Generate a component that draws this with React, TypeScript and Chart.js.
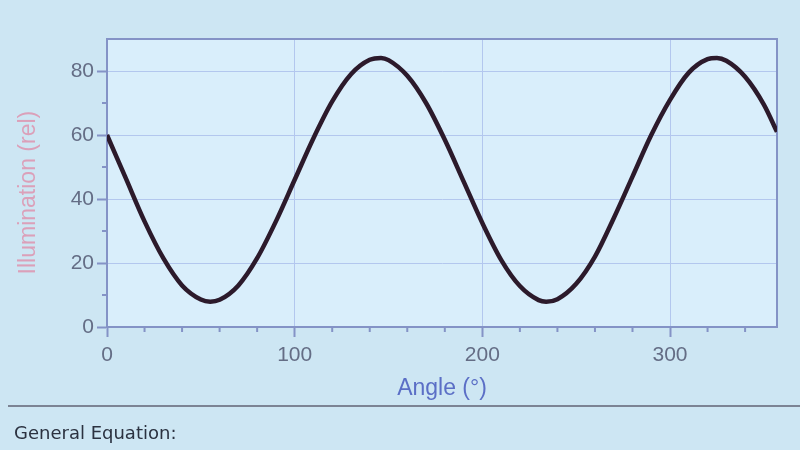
import { useEffect, useRef } from "react";
import { Chart, registerables } from "chart.js";
import type { Plugin } from "chart.js";

Chart.register(...registerables);

// angle (deg) and illumination (rel)
const ANGLES = [
  0, 10, 20, 30, 40, 50, 55, 60, 70, 80, 90, 100, 110, 120, 130, 140, 146, 150,
  160, 170, 180, 190, 200, 210, 220, 230, 234, 240, 250, 260, 270, 280, 290, 300,
  310, 320, 325, 330, 340, 350, 357,
];
const ILLUMINATION = [
  60, 46.5, 33, 21.5, 13, 8.6, 7.9, 8.5, 13, 21.5, 33, 46, 59, 70.5, 79, 83.5, 84.1, 83.4,
  78.5, 70, 58.5, 45.5, 32.5, 21, 12.8, 8.4, 7.9, 8.7, 13.5, 22, 34, 47, 60, 71,
  79.5, 83.7, 84.1, 83.2, 78.2, 69.5, 61,
];
const X_MINOR_TICKS = [20, 40, 60, 80, 120, 140, 160, 180, 220, 240, 260, 280, 320, 340];
const Y_MINOR_TICKS = [10, 30, 50, 70];

const OUTER_BG = "#cde6f3";
const PLOT_BG = "#d9eefb";
const GRID = "#b3c7ee";
const AXIS = "#8493c6";
const TICK_TEXT = "#646d85";
const FONT = "'Liberation Sans', Arial, sans-serif";

const plotFrame: Plugin<"line"> = {
  id: "plotFrame",
  beforeDraw(chart) {
    const { ctx, chartArea: a } = chart;
    ctx.save();
    ctx.fillStyle = PLOT_BG;
    ctx.fillRect(a.left, a.top, a.width, a.height);
    ctx.restore();
  },
  beforeDatasetsDraw(chart) {
    const { ctx, chartArea: a, scales } = chart;
    ctx.save();
    ctx.strokeStyle = AXIS;
    ctx.lineWidth = 2;
    ctx.beginPath();
    ctx.moveTo(a.left, a.top);
    ctx.lineTo(a.right, a.top);
    ctx.lineTo(a.right, a.bottom);
    ctx.stroke();
    ctx.beginPath();
    for (const v of X_MINOR_TICKS) {
      const px = scales.x.getPixelForValue(v);
      ctx.moveTo(px, a.bottom);
      ctx.lineTo(px, a.bottom + 5);
    }
    for (const v of Y_MINOR_TICKS) {
      const py = scales.y.getPixelForValue(v);
      ctx.moveTo(a.left - 5, py);
      ctx.lineTo(a.left, py);
    }
    ctx.stroke();
    ctx.restore();
  },
};

function IlluminationChart() {
  const canvasRef = useRef<HTMLCanvasElement>(null);

  useEffect(() => {
    if (!canvasRef.current) return;
    const ctx = canvasRef.current.getContext("2d");
    if (!ctx) return;

    const chart = new Chart(ctx, {
      type: "line",
      data: {
        datasets: [
          {
            data: ANGLES.map((a, i) => ({ x: a, y: ILLUMINATION[i] })),
            borderColor: "#2c1a2b",
            borderWidth: 4.5,
            pointRadius: 0,
            cubicInterpolationMode: "monotone",
          },
        ],
      },
      options: {
        animation: false,
        responsive: true,
        maintainAspectRatio: false,
        layout: { padding: { top: 39, right: 23, left: 0, bottom: 0 } },
        plugins: {
          legend: { display: false },
          tooltip: { enabled: false },
        },
        scales: {
          x: {
            type: "linear",
            min: 0,
            max: 357,
            afterFit: (scale) => {
              scale.height = 123;
            },
            ticks: {
              stepSize: 100,
              includeBounds: false,
              color: TICK_TEXT,
              font: { family: FONT, size: 21 },
              padding: 6,
              maxRotation: 0,
            },
            grid: {
              color: (c) => (c.tick && c.tick.value === 0 ? "rgba(0,0,0,0)" : GRID),
              tickColor: AXIS,
              tickLength: 10,
              tickWidth: 2,
            },
            border: { color: AXIS, width: 2 },
            title: {
              display: true,
              text: "Angle (°)",
              color: "#5b6fc6",
              font: { family: FONT, size: 23 },
              padding: { top: 0, bottom: 48 },
            },
          },
          y: {
            min: 0,
            max: 90,
            afterFit: (scale) => {
              scale.width = 107;
            },
            ticks: {
              stepSize: 20,
              includeBounds: false,
              color: TICK_TEXT,
              font: { family: FONT, size: 21 },
              padding: 3,
            },
            grid: {
              color: (c) => (c.tick && c.tick.value === 0 ? "rgba(0,0,0,0)" : GRID),
              tickColor: AXIS,
              tickLength: 10,
              tickWidth: 2,
            },
            border: { color: AXIS, width: 2 },
            title: {
              display: true,
              // trailing spaces nudge the centred label down a little, as in the original
              text: "Illumination (rel)   ",
              color: "#dba0b9",
              font: { family: FONT, size: 23 },
              padding: { top: 15, bottom: 0 },
            },
          },
        },
      },
      plugins: [plotFrame],
    });

    return () => {
      chart.destroy();
    };
  }, []);

  return (
    <div style={{ position: "absolute", left: 0, top: 0, width: 800, height: 450 }}>
      <canvas ref={canvasRef}></canvas>
    </div>
  );
}

export default function App() {
  return (
    <div
      style={{
        position: "fixed",
        left: 0,
        top: 0,
        width: 800,
        height: 450,
        background: OUTER_BG,
        overflow: "hidden",
      }}
    >
      <IlluminationChart />
      <div
        style={{
          position: "absolute",
          left: 8,
          right: 0,
          top: 405,
          height: 2,
          background: "#7c8494",
        }}
      />
      <div
        style={{
          position: "absolute",
          left: 14,
          top: 422,
          fontFamily: "'DejaVu Sans', sans-serif",
          fontSize: 18,
          color: "#2b3240",
          whiteSpace: "nowrap",
        }}
      >
        General Equation:
      </div>
    </div>
  );
}
